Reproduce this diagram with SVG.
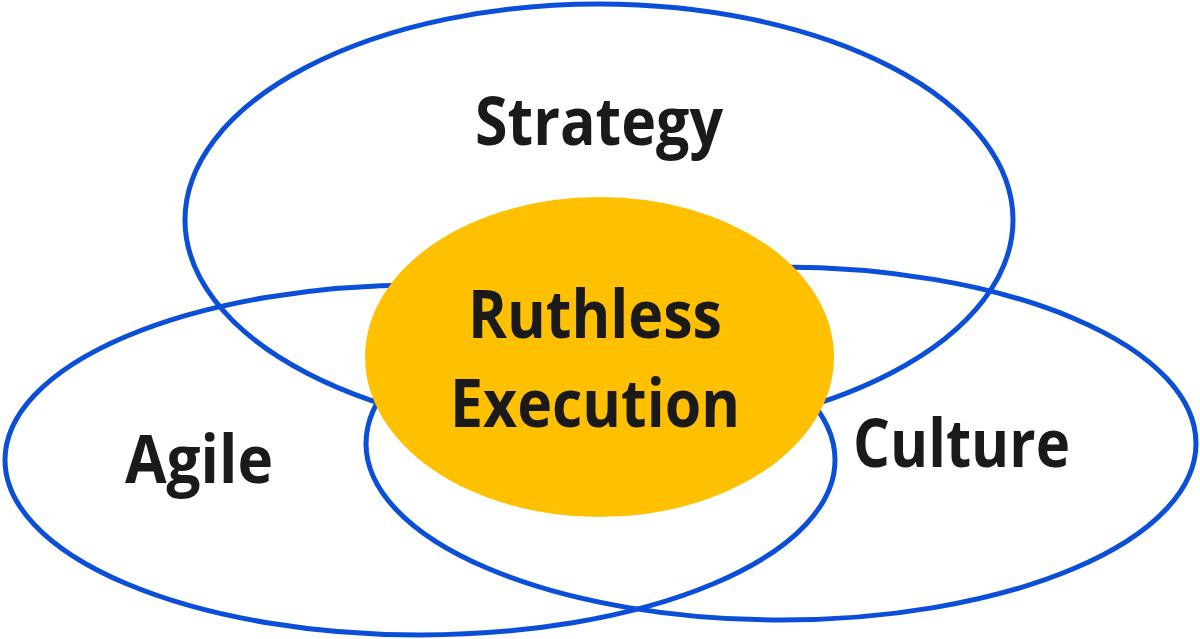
<svg xmlns="http://www.w3.org/2000/svg" width="1200" height="639" viewBox="0 0 1200 639">
<style>
.ring{fill:none;stroke:#0b4fd8;stroke-width:5}
.core{fill:#ffc000;stroke:none}
.lbl{font-family:"Open Sans","Liberation Sans",sans-serif;font-weight:700;font-size:66px;fill:#1a1a1a;text-anchor:middle}
</style>
<rect width="1200" height="639" fill="#ffffff"/>
<g id="strategy">
<ellipse class="ring" cx="599" cy="220" rx="414" ry="216"/>
</g>
<g id="agile">
<ellipse class="ring" cx="420" cy="460" rx="415" ry="175"/>
</g>
<g id="culture">
<ellipse class="ring" cx="781" cy="443.5" rx="415" ry="176.5"/>
</g>
<g id="ruthless-execution">
<ellipse class="core" cx="599.5" cy="357" rx="234.5" ry="160"/>
<text class="lbl" x="595" y="338" textLength="254" lengthAdjust="spacingAndGlyphs">Ruthless</text>
<text class="lbl" x="595" y="427" textLength="290" lengthAdjust="spacingAndGlyphs">Execution</text>
</g>
<g id="labels">
<text class="lbl" x="599" y="145" textLength="248" lengthAdjust="spacingAndGlyphs">Strategy</text>
<text class="lbl" x="199" y="483" textLength="148" lengthAdjust="spacingAndGlyphs">Agile</text>
<text class="lbl" x="961.5" y="467" textLength="217" lengthAdjust="spacingAndGlyphs">Culture</text>
</g>
<g id="connectors"></g>
</svg>
